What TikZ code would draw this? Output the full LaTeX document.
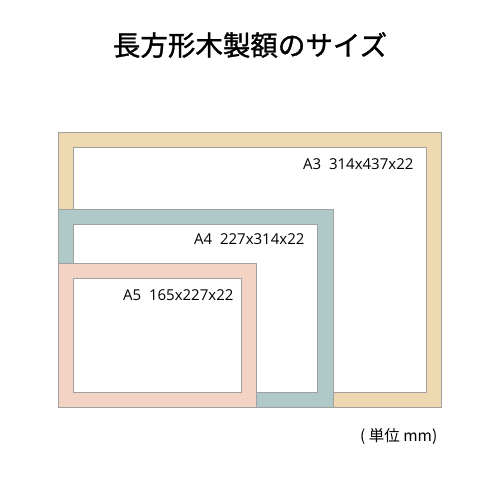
\documentclass[tikz,border=0pt]{standalone}
\usepackage{fontspec}
\setmainfont{Open Sans}
\newfontfamily\cjk{Noto Sans CJK JP}
\newfontfamily\cjkb[FakeBold=1.2]{Noto Sans CJK JP}
\definecolor{tanc}{HTML}{EED8B0}
\definecolor{tealc}{HTML}{AFC8C8}
\definecolor{pinkc}{HTML}{F3D3C3}
\definecolor{edgec}{HTML}{A0A0A0}
\begin{document}
\begin{tikzpicture}[x=1bp,y=-1bp]
\tikzset{
  frameout/.style={draw=edgec,line width=0.8bp},
  framein/.style={draw=edgec,line width=0.8bp,fill=white},
  lbl/.style={inner sep=0pt,anchor=base west,font=\fontsize{15bp}{17bp}\selectfont}
}
\useasboundingbox[fill=white] (0,0) rectangle (500,500);
\node[inner sep=0pt,anchor=base,font=\cjkb\fontsize{27.5bp}{30bp}\selectfont] (title) at (250,55.5) {長方形木製額のサイズ};
% A3
\path[frameout,fill=tanc] (58,132.7) rectangle (441.3,407.3);
\path[framein] (73.5,147.7) rectangle (426,392.2);
% A4
\path[frameout,fill=tealc] (58,209) rectangle (333.5,407.3);
\path[framein] (73.5,224.3) rectangle (317.8,392.2);
% A5
\path[frameout,fill=pinkc] (58,263.3) rectangle (256.8,407.3);
\path[framein] (73.5,278.5) rectangle (241.6,392.2);
\node[lbl] (a3) at (303,169.5) {A3\ \ 314x437x22};
\node[lbl] (a4) at (194,244.5) {A4\ \ 227x314x22};
\node[lbl] (a5) at (123,300) {A5\ \ 165x227x22};
\node[inner sep=0pt,anchor=base west,font=\cjk\fontsize{15.5bp}{17bp}\selectfont] (unit) at (360,441) {( 単位 mm)};
\end{tikzpicture}
\end{document}
